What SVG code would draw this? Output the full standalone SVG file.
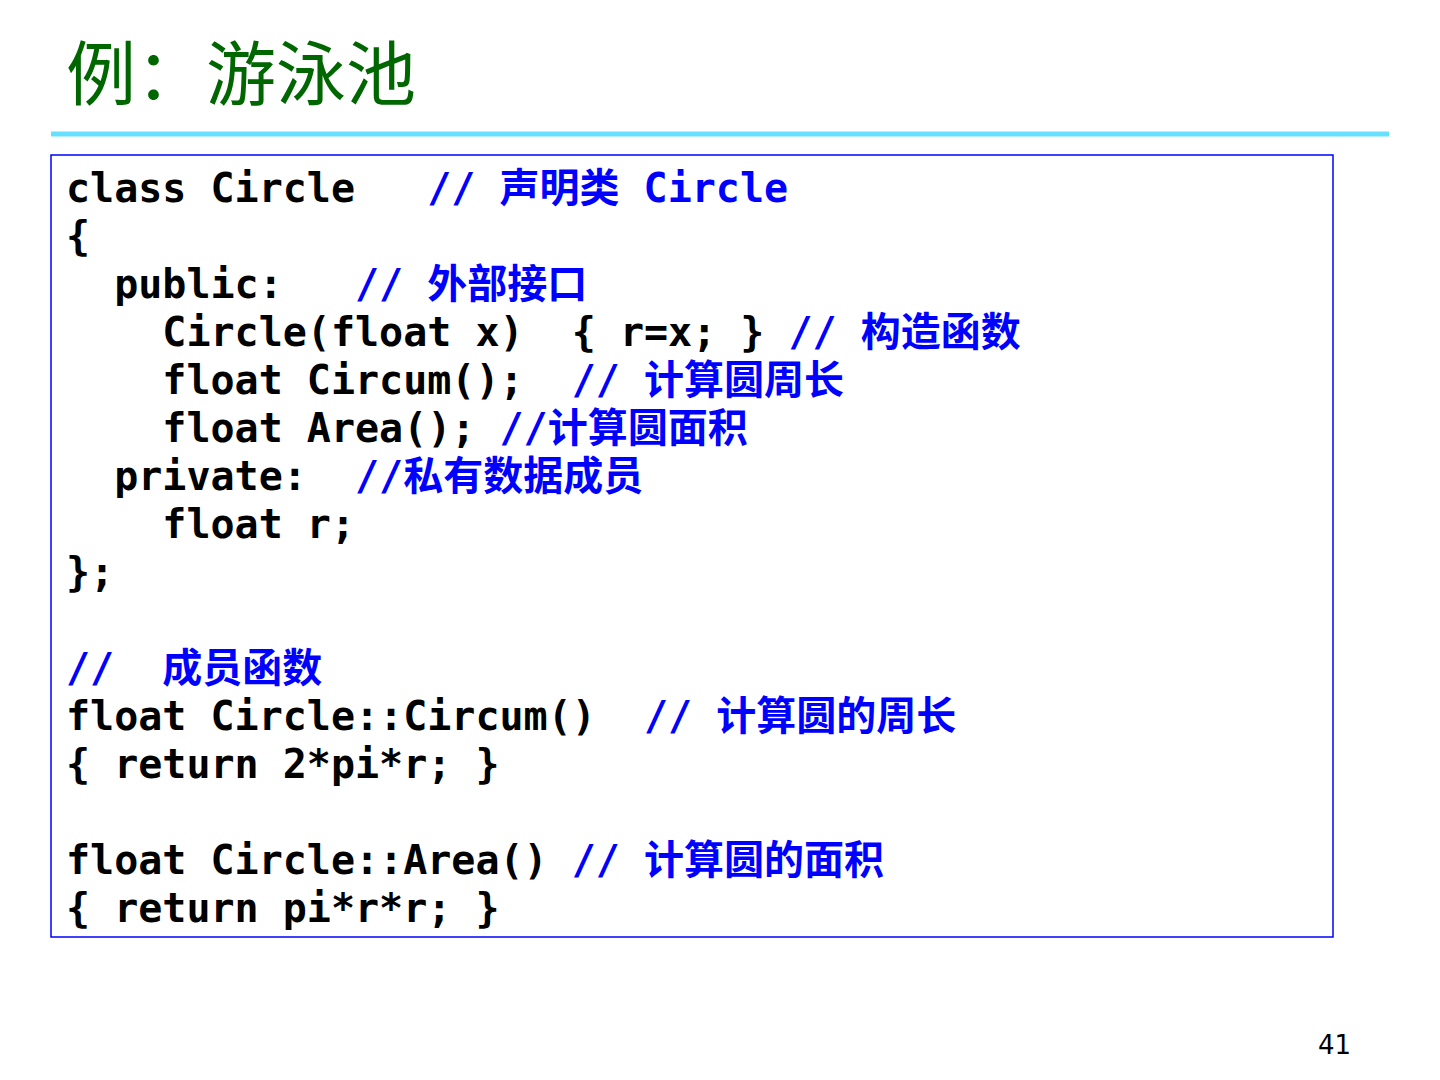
<svg xmlns="http://www.w3.org/2000/svg" width="1440" height="1080" viewBox="0 0 1440 1080" xml:space="preserve">
<style>
.code text{font-family:"DejaVu Sans Mono","Noto Sans CJK SC",monospace;font-size:40px;font-weight:bold;fill:#000;white-space:pre}
.code .c{fill:#0000ff}
</style>
<rect width="1440" height="1080" fill="#fff"/>
<text x="66" y="100" font-family="Noto Sans CJK SC,serif" font-size="70" fill="#006600">例：游泳池</text>
<line x1="51" y1="134" x2="1389" y2="134" stroke="#66e0ff" stroke-width="5"/>
<rect x="51" y="155" width="1282" height="782" fill="none" stroke="#0000ff" stroke-width="1.5"/>
<g class="code">
<text x="66" y="202" xml:space="preserve">class Circle   <tspan class="c">// 声明类 Circle</tspan></text>
<text x="66" y="250" xml:space="preserve">{</text>
<text x="66" y="298" xml:space="preserve">  public:   <tspan class="c">// 外部接口</tspan></text>
<text x="66" y="346" xml:space="preserve">    Circle(float x)  { r=x; } <tspan class="c">// 构造函数</tspan></text>
<text x="66" y="394" xml:space="preserve">    float Circum();  <tspan class="c">// 计算圆周长</tspan></text>
<text x="66" y="442" xml:space="preserve">    float Area(); <tspan class="c">//计算圆面积</tspan></text>
<text x="66" y="490" xml:space="preserve">  private:  <tspan class="c">//私有数据成员</tspan></text>
<text x="66" y="538" xml:space="preserve">    float r;</text>
<text x="66" y="586" xml:space="preserve">};</text>
<text x="66" y="682" xml:space="preserve"><tspan class="c">//  成员函数</tspan></text>
<text x="66" y="730" xml:space="preserve">float Circle::Circum()  <tspan class="c">// 计算圆的周长</tspan></text>
<text x="66" y="778" xml:space="preserve">{ return 2*pi*r; }</text>
<text x="66" y="874" xml:space="preserve">float Circle::Area() <tspan class="c">// 计算圆的面积</tspan></text>
<text x="66" y="922" xml:space="preserve">{ return pi*r*r; }</text>
</g>
<text x="1351" y="1054" text-anchor="end" font-family="DejaVu Sans,sans-serif" font-size="26" fill="#000">41</text>
</svg>
